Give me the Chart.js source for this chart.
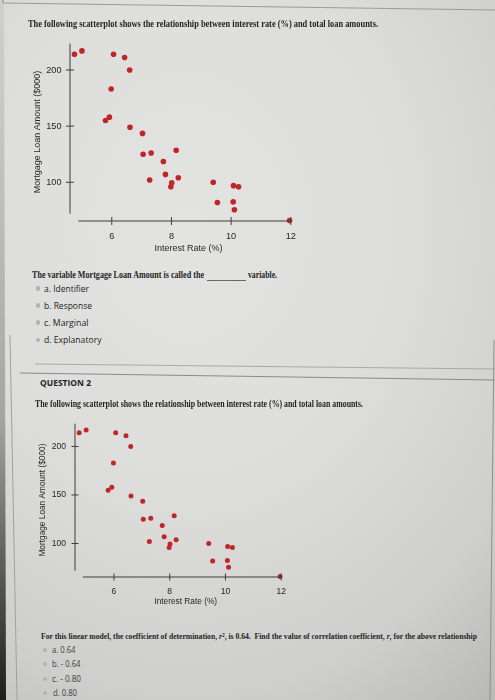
<!DOCTYPE html>
<html>
<head>
<meta charset="utf-8">
<script src="https://cdn.jsdelivr.net/npm/chart.js@4.4.0/dist/chart.umd.min.js"></script>
<style>
html, body { margin: 0; padding: 0; }
body {
  width: 495px; height: 700px; position: relative; overflow: hidden;
  background: radial-gradient(ellipse 115% 100% at 38% 32%, #e3e4e1 0%, #dddedb 38%, #cecfcc 68%, #a9a9a9 100%);
}
.t { position: absolute; white-space: nowrap; transform-origin: 0 50%; }
.serif { font-family: "Liberation Serif", "Times New Roman", serif; font-weight: 700; color: #242424; }
.sans { font-family: "Open Sans", sans-serif; color: #222; }
.radio { position: absolute; border-radius: 50%; background: #b2b2b0; }
.box { position: absolute; }
svg { position: absolute; left: 0; top: 0; }
sup { font-size: 70%; vertical-align: 0; position: relative; top: -0.45em; }
</style>
</head>
<body>
<svg width="495" height="700">
  <defs>
    <linearGradient id="edge" x1="0" y1="0" x2="0" y2="1">
      <stop offset="0" stop-color="#000" stop-opacity="0.05"/>
      <stop offset="0.6" stop-color="#000" stop-opacity="0.25"/>
      <stop offset="1" stop-color="#000" stop-opacity="0.85"/>
    </linearGradient>
  </defs>
  <polygon points="0,0 4,0 6,700 0,700" fill="url(#edge)"/>
  <line x1="3" y1="0" x2="3" y2="3" stroke="#8c8c8c" stroke-width="1"/>
  <line x1="3" y1="3" x2="495" y2="10" stroke="#9a9a9a" stroke-width="1"/>
  <line x1="35" y1="364" x2="495" y2="369" stroke="#9c9c9c" stroke-width="0.8"/>
  <line x1="20" y1="373" x2="495" y2="380" stroke="#8a8a8a" stroke-width="1"/>
  <line x1="10" y1="335" x2="17" y2="700" stroke="#a0a0a0" stroke-width="1"/>
  <line x1="494" y1="340" x2="490" y2="700" stroke="#8e8e8e" stroke-width="1"/>
  <line x1="207" y1="280.5" x2="246" y2="280.5" stroke="#333" stroke-width="0.7"/>
</svg>

<div class="box" style="left:20px;top:29px;width:290px;height:227px"><canvas id="chart1"></canvas></div>
<div class="box" style="left:25px;top:409px;width:274px;height:201px"><canvas id="chart2"></canvas></div>

<script>
// values (same data in both questions)
const interestRate = [4.75, 5.0, 6.06, 6.43, 6.60, 5.98, 5.79, 5.92, 6.61, 7.03, 7.05, 7.32, 8.16,
                      7.73, 7.80, 8.23, 7.27, 8.01, 7.98, 9.40, 9.54, 10.08, 10.25, 10.07, 10.11, 11.96];
const loanAmount = [214, 217, 214, 211, 200, 183, 155, 158, 149, 143.5, 125, 126, 128.5,
                    118.5, 107, 104, 102, 99.5, 96, 100, 82, 97, 96, 82.5, 75.5, 66];
const xTicks = [6, 8, 10, 12];
const yTicks = [100, 150, 200];

// text blocks of the page
const texts = [
  ['The following scatterplot shows the relationship between interest rate (%) and total loan amounts.', 28, 24, 350, 'serif', 10.5],
  ['The variable Mortgage Loan Amount is called the', 32, 275, 172, 'serif', 10],
  ['variable.', 248, 275, 29, 'serif', 10],
  ['a. Identifier', 44, 288.3, 45, 'sans', 9.5],
  ['b. Response', 44, 305.5, 48, 'sans', 9.5],
  ['c. Marginal', 44, 322.3, 44.5, 'sans', 9.5],
  ['d. Explanatory', 44, 340, 57.5, 'sans', 9.5],
  ['<b>QUESTION 2</b>', 40, 383.3, 51, 'sans', 8.8],
  ['The following scatterplot shows the relationship between interest rate (%) and total loan amounts.', 35, 405, 328, 'serif', 9.5],
  ['For this linear model, the coefficient of determination, <i>r</i><sup>2</sup>, is 0.64.&nbsp; Find the value of correlation coefficient, <i>r</i>, for the above relationship', 41, 637.3, 436, 'serif', 8.2],
  ['a. 0.64', 52, 650, 23.5, 'sans', 8.2],
  ['b. - 0.64', 52, 664, 28.5, 'sans', 8.2],
  ['c. - 0.80', 52, 678.7, 29, 'sans', 8.2],
  ['d. 0.80', 53, 692.7, 24, 'sans', 8.2]
];
const radios = [[38, 288.3, 4.6], [38, 305.5, 4.6], [38, 322.3, 4.6], [38, 340, 4.6],
                [45, 650, 4.2], [45, 664, 4.2], [45, 678.7, 4.2], [45, 692.7, 4.2]];

const placed = texts.map(([html, x, cy, w, cls, size]) => {
  const el = document.createElement('div');
  el.className = 't ' + cls;
  el.innerHTML = html;
  el.style.fontSize = size + 'px';
  el.style.lineHeight = (size + 2) + 'px';
  el.style.left = x + 'px';
  el.style.top = (cy - (size + 2) / 2) + 'px';
  if (cls === 'sans' && cy > 640) el.style.color = '#3a3a3a';
  document.body.appendChild(el);
  return [el, w];
});
radios.forEach(([x, y, d]) => {
  const el = document.createElement('div');
  el.className = 'radio';
  el.style.left = (x - d / 2) + 'px';
  el.style.top = (y - d / 2) + 'px';
  el.style.width = d + 'px';
  el.style.height = d + 'px';
  document.body.appendChild(el);
});
function fitTexts() {
  placed.forEach(([el, w]) => {
    el.style.transform = 'none';
    const actual = el.getBoundingClientRect().width;
    el.style.transform = 'scaleX(' + (w / actual) + ')';
  });
}
fitTexts();
if (document.fonts) document.fonts.ready.then(fitTexts);

// axis ranges in data units (detached axis look of the original)
const yAxisAt = 4.6, yAxisTop = 223.5, yAxisBottom = 72;
const xAxisAt = 65.5, xAxisStart = 4.88, xAxisEnd = 12.02;

const crossAxes = {
  id: 'crossAxes',
  afterDatasetsDraw(chart, args, o) {
    const { ctx, scales: { x, y } } = chart;
    const ax = x.getPixelForValue(yAxisAt);
    const ay = y.getPixelForValue(xAxisAt);
    ctx.save();
    ctx.strokeStyle = o.color;
    ctx.lineWidth = o.width;
    ctx.beginPath();
    ctx.moveTo(ax, y.getPixelForValue(yAxisTop));
    ctx.lineTo(ax, y.getPixelForValue(yAxisBottom));
    ctx.moveTo(x.getPixelForValue(xAxisStart), ay);
    ctx.lineTo(x.getPixelForValue(xAxisEnd), ay);
    yTicks.forEach(v => {
      const p = y.getPixelForValue(v);
      ctx.moveTo(ax - o.tick, p);
      ctx.lineTo(ax + o.tick, p);
    });
    xTicks.forEach(v => {
      const p = x.getPixelForValue(v);
      ctx.moveTo(p, ay - o.tick);
      ctx.lineTo(p, ay + o.tick);
    });
    ctx.stroke();
    ctx.restore();
  }
};

function makeChart(id, f) {
  const font = size => ({ family: '"Liberation Sans", Arial, sans-serif', size: size });
  return new Chart(document.getElementById(id), {
    type: 'scatter',
    data: {
      datasets: [{
        data: interestRate.map((r, i) => ({ x: r, y: loanAmount[i] })),
        backgroundColor: '#bf262a',
        borderWidth: 0,
        pointRadius: f.r,
        pointHoverRadius: f.r,
        clip: false
      }]
    },
    options: {
      responsive: true,
      maintainAspectRatio: false,
      animation: false,
      events: [],
      layout: { padding: 0 },
      plugins: {
        legend: { display: false },
        tooltip: { enabled: false },
        crossAxes: { color: '#3c3c3c', width: 1, tick: f.tick }
      },
      scales: {
        x: {
          type: 'linear', min: 4.6, max: 12.55,
          grid: { display: false, drawTicks: false }, border: { display: false },
          afterBuildTicks: s => { s.ticks = xTicks.map(v => ({ value: v })); },
          afterFit: s => { s.height = f.xh; },
          ticks: { font: font(f.tickSize), color: '#262626', padding: f.xpad, maxRotation: 0, autoSkip: false },
          title: { display: true, text: 'Interest Rate (%)', font: font(f.titleSize), color: '#262626',
                   padding: { top: 0, bottom: f.xtp } }
        },
        y: {
          type: 'linear', min: 65.5, max: 224,
          grid: { display: false, drawTicks: false }, border: { display: false },
          afterBuildTicks: s => { s.ticks = yTicks.map(v => ({ value: v })); },
          afterFit: s => { s.width = f.yw; },
          ticks: { font: font(f.tickSize), color: '#262626', padding: f.ypad, autoSkip: false },
          title: { display: true, text: 'Mortgage Loan Amount ($000)', font: font(f.titleSize), color: '#262626',
                   padding: { top: f.ytp, bottom: 0 } }
        }
      }
    },
    plugins: [crossAxes]
  });
}

makeChart('chart1', { r: 2.8, tick: 4, xh: 35, xpad: 10, xtp: 2.3, yw: 50, ypad: 8.5, ytp: 12, tickSize: 9.2, titleSize: 9 });
makeChart('chart2', { r: 2.5, tick: 3.5, xh: 33, xpad: 9, xtp: 3.7, yw: 50, ypad: 9, ytp: 12.3, tickSize: 8.6, titleSize: 8.3 });
</script>
</body>
</html>
